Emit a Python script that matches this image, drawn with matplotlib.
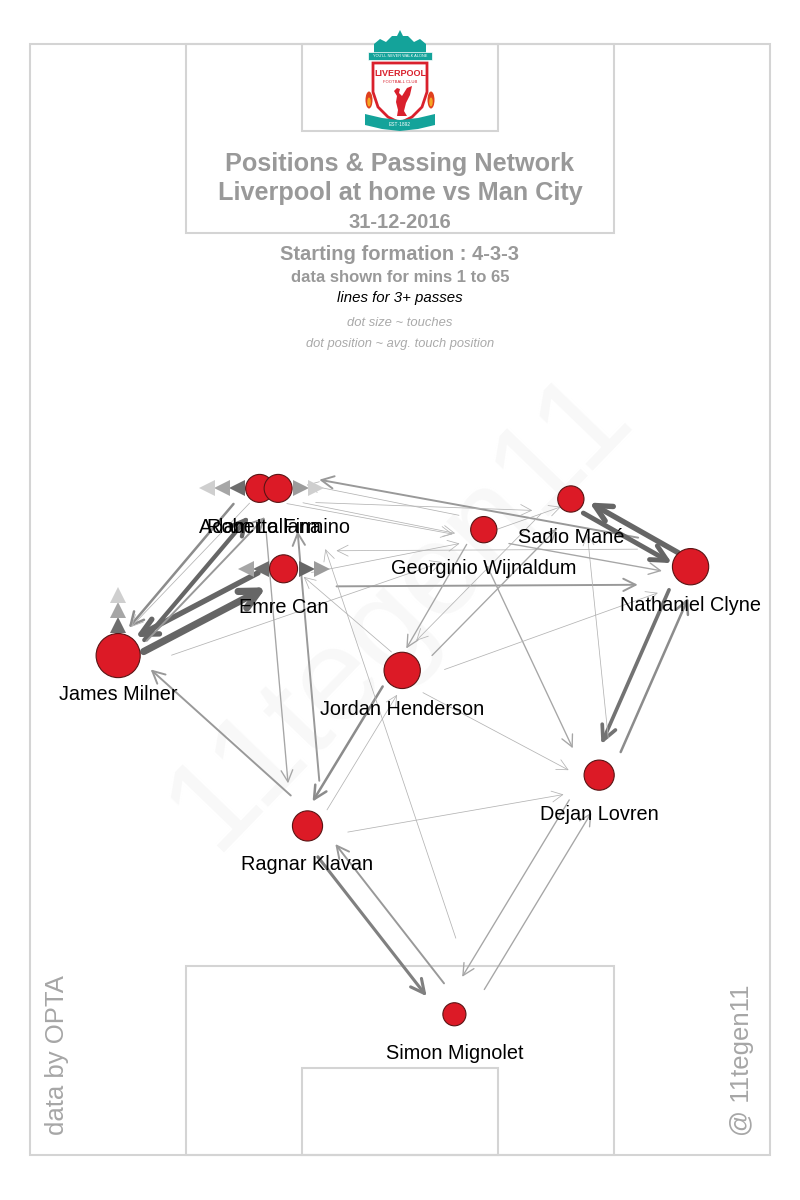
import matplotlib
matplotlib.use("Agg")
import matplotlib.pyplot as plt
from matplotlib.patches import FancyArrowPatch, Rectangle, Polygon, Ellipse
from matplotlib.transforms import offset_copy
import numpy as np

plt.rcParams['font.family'] = ['Liberation Sans', 'DejaVu Sans']

# average touch positions, metres (x across the pitch, y from own goal line)
players = ['Adam Lallana', 'Roberto Firmino', 'Emre Can', 'James Milner',
           'Georginio Wijnaldum', 'Sadio Mané', 'Nathaniel Clyne',
           'Jordan Henderson', 'Ragnar Klavan', 'Dejan Lovren', 'Simon Mignolet']
pos_x = [21.1, 22.8, 23.3, 8.1, 41.7, 49.7, 60.7, 34.2, 25.5, 52.3, 39.0]
pos_y = [63.0, 63.0, 55.4, 47.2, 59.1, 62.0, 55.6, 45.8, 31.1, 35.9, 13.3]
touches = [25, 25, 25, 62, 22, 22, 42, 42, 29, 29, 17]

# passes (3+ only)
pass_from = ['James Milner', 'Emre Can', 'James Milner', 'Adam Lallana',
             'James Milner', 'Roberto Firmino', 'Ragnar Klavan', 'James Milner',
             'Emre Can', 'Nathaniel Clyne', 'Nathaniel Clyne', 'Nathaniel Clyne',
             'Sadio Mané', 'Nathaniel Clyne', 'Dejan Lovren', 'Dejan Lovren',
             'Georginio Wijnaldum', 'Georginio Wijnaldum', 'Jordan Henderson',
             'Sadio Mané', 'Jordan Henderson', 'Ragnar Klavan', 'Roberto Firmino',
             'Ragnar Klavan', 'Ragnar Klavan', 'Simon Mignolet', 'Simon Mignolet',
             'Dejan Lovren', 'Ragnar Klavan', 'Jordan Henderson', 'Jordan Henderson',
             'Adam Lallana', 'Roberto Firmino', 'Roberto Firmino',
             'Georginio Wijnaldum', 'Georginio Wijnaldum', 'Emre Can',
             'Georginio Wijnaldum', 'Simon Mignolet', 'Jordan Henderson']
pass_to = ['Emre Can', 'James Milner', 'Adam Lallana', 'James Milner',
           'Roberto Firmino', 'James Milner', 'James Milner', 'Georginio Wijnaldum',
           'Nathaniel Clyne', 'Emre Can', 'Adam Lallana', 'Sadio Mané',
           'Nathaniel Clyne', 'Dejan Lovren', 'Nathaniel Clyne', 'Sadio Mané',
           'Dejan Lovren', 'Jordan Henderson', 'Sadio Mané',
           'Jordan Henderson', 'Ragnar Klavan', 'Jordan Henderson', 'Ragnar Klavan',
           'Roberto Firmino', 'Simon Mignolet', 'Ragnar Klavan', 'Dejan Lovren',
           'Simon Mignolet', 'Dejan Lovren', 'Dejan Lovren', 'Nathaniel Clyne',
           'Georginio Wijnaldum', 'Georginio Wijnaldum', 'Sadio Mané',
           'Roberto Firmino', 'Sadio Mané', 'Georginio Wijnaldum',
           'Nathaniel Clyne', 'Roberto Firmino', 'Emre Can']
pass_count = [14, 11, 9, 6, 5, 3, 5, 3,
              5, 3, 5, 11,
              10, 8, 6, 3,
              4, 4, 4,
              3, 6, 3, 4,
              5, 7, 5, 4,
              4, 3, 3, 3,
              3, 3, 3,
              3, 3, 3,
              4, 3, 3]

# positional tendency arrows next to some dots
shift_player = ['Adam Lallana', 'Roberto Firmino', 'Emre Can', 'Emre Can', 'James Milner']
shift_dir = ['left', 'right', 'left', 'right', 'up']
shift_shades = [['#6e6e6e', '#a6a6a6', '#cfcfcf'], ['#9c9c9c', '#cfcfcf'],
                ['#6e6e6e', '#a6a6a6'], ['#666666', '#9c9c9c'],
                ['#6e6e6e', '#a6a6a6', '#cfcfcf']]

PITCH_W, PITCH_L = 68, 105
BOX_W, BOX_D = 39.4, 17.9
SIX_W, SIX_D = 18.0, 8.2
LINE = '#d4d4d4'
GREY = '#999999'

fig = plt.figure(figsize=(8, 12), dpi=100)
ax = fig.add_axes([30 / 800, 45 / 1200, 740 / 800, 1111 / 1200])
ax.set_xlim(0, PITCH_W)
ax.set_ylim(0, PITCH_L)
ax.axis('off')

# pitch
pitch_lines = [(0, 0, PITCH_W, PITCH_L),
               ((PITCH_W - BOX_W) / 2, 0, BOX_W, BOX_D),
               ((PITCH_W - SIX_W) / 2, 0, SIX_W, SIX_D),
               ((PITCH_W - BOX_W) / 2, PITCH_L - BOX_D, BOX_W, BOX_D),
               ((PITCH_W - SIX_W) / 2, PITCH_L - SIX_D, SIX_W, SIX_D)]
for x, y, w, h in pitch_lines:
    ax.add_patch(Rectangle((x, y), w, h, fill=False, ec=LINE, lw=1.5,
                           clip_on=False, zorder=1))

# watermark
ax.text(0.5, 0.49, '11tegen11', transform=ax.transAxes, rotation=46,
        fontsize=95, color='#f8f8f8', ha='center', va='center', zorder=0.5)

xy = {p: (x, y) for p, x, y in zip(players, pos_x, pos_y)}


def shade(n):
    t = min((n - 3) / 6, 1)
    g = 0.70 - 0.30 * t
    return (g, g, g)


for a, b, n in zip(pass_from, pass_to, pass_count):
    x0, y0 = xy[a]
    x1, y1 = xy[b]
    dx, dy = x1 - x0, y1 - y0
    ox, oy = 0.045 * dy, -0.045 * dx
    start = (x0 + 0.13 * dx + ox, y0 + 0.13 * dy + oy)
    end = (x1 - 0.13 * dx + ox, y1 - 0.13 * dy + oy)
    lw = 0.55 + 0.42 * (n - 3)
    ax.add_patch(FancyArrowPatch(start, end,
                                 arrowstyle='->,head_length=0.6,head_width=0.3',
                                 mutation_scale=12 + 2 * lw, lw=lw, color=shade(n),
                                 shrinkA=0, shrinkB=0, capstyle='round',
                                 joinstyle='round', zorder=2))

radius = 2.8 * np.sqrt(touches)  # pixels
ax.scatter(pos_x, pos_y, s=(2 * radius * 0.72) ** 2, c='#dc1a26',
           edgecolors='#5a1414', linewidths=0.8, zorder=4)

for p, x, y in zip(players, pos_x, pos_y):
    ax.annotate(p, (x, y), xytext=(0, -28), textcoords='offset points',
                ha='center', va='center', fontsize=14.3, color='black', zorder=5)

marker_of = {'left': '<', 'right': '>', 'up': '^'}
step_of = {'left': (-1, 0), 'right': (1, 0), 'up': (0, 1)}
r_of = dict(zip(players, radius))
for p, d, shades in zip(shift_player, shift_dir, shift_shades):
    x, y = xy[p]
    for i, c in enumerate(shades):
        off = r_of[p] + 9 + 15 * i
        tr = offset_copy(ax.transData, fig=fig, x=step_of[d][0] * off,
                         y=step_of[d][1] * off, units='dots')
        ax.plot([x], [y], marker=marker_of[d], ms=12, color=c, mew=0,
                transform=tr, zorder=3)

# titles
def ftext(y, s, **kw):
    fig.text(0.5, 1 - y / 1200, s, ha='center', va='center', **kw)


ftext(164, 'Positions & Passing Network', fontsize=18.2, fontweight='bold', color=GREY)
ftext(193, 'Liverpool at home vs Man City', fontsize=18.2, fontweight='bold', color=GREY)
ftext(222, '31-12-2016', fontsize=14.5, fontweight='bold', color=GREY)
ftext(254, 'Starting formation : 4-3-3', fontsize=14.5, fontweight='bold', color=GREY)
ftext(278, 'data shown for mins 1 to 65', fontsize=12, fontweight='bold', color=GREY)
ftext(298, 'lines for 3+ passes', fontsize=10.8, style='italic', color='black')
ftext(323, 'dot size ~ touches', fontsize=9.4, style='italic', color='#aaaaaa')
ftext(344, 'dot position ~ avg. touch position', fontsize=9.3, style='italic', color='#aaaaaa')

fig.text(57 / 800, 1 - 1055 / 1200, 'data by OPTA', rotation=90, ha='center',
         va='center', fontsize=18.5, color='#a6a6a6')
fig.text(742 / 800, 1 - 1060 / 1200, '@ 11tegen11', rotation=90, ha='center',
         va='center', fontsize=18.5, color='#a6a6a6')

# club crest
TEAL = '#14a39a'
RED = '#d9202c'
lax = fig.add_axes([362 / 800, 1 - 134 / 1200, 76 / 800, 104 / 1200])
lax.set_xlim(0, 76)
lax.set_ylim(104, 0)
lax.axis('off')
lax.add_patch(Polygon([(12, 23), (12, 14), (18, 9), (24, 12), (30, 6), (35, 6),
                       (38, 0), (41, 6), (46, 6), (52, 12), (58, 9), (64, 14),
                       (64, 23)], fc=TEAL, ec='none'))
lax.add_patch(Rectangle((6, 22), 64, 8, fc=TEAL, ec='white', lw=0.5))
lax.text(38, 26, "YOU'LL NEVER WALK ALONE", fontsize=2.8, color='white',
         ha='center', va='center')
lax.add_patch(Ellipse((7, 70), 7, 17, fc='#e0401e', ec='none'))
lax.add_patch(Ellipse((7, 72), 3.5, 9, fc='#f5a623', ec='none'))
lax.add_patch(Ellipse((69, 70), 7, 17, fc='#e0401e', ec='none'))
lax.add_patch(Ellipse((69, 72), 3.5, 9, fc='#f5a623', ec='none'))
lax.add_patch(Polygon([(11, 33), (65, 33), (65, 62), (60, 77), (50, 87), (38, 93),
                       (26, 87), (16, 77), (11, 62)], fc='white', ec=RED, lw=2))
lax.text(38, 44, 'LIVERPOOL', fontsize=6.5, fontweight='bold', color=RED,
         ha='center', va='center')
lax.text(38, 52, 'FOOTBALL CLUB', fontsize=3, color=RED, ha='center', va='center')
lax.add_patch(Polygon([(32, 61), (35, 58), (38, 59), (37, 63), (40, 66), (45, 58),
                       (50, 56), (48, 65), (44, 73), (42, 81), (45, 86), (35, 86),
                       (36, 80), (34, 72), (35, 66)], fc=RED, ec='none'))
lax.add_patch(Polygon([(3, 84), (20, 88), (38, 90), (56, 88), (73, 84), (73, 95),
                       (56, 99), (38, 101), (20, 99), (3, 95)], fc=TEAL, ec='none'))
lax.text(38, 95, 'EST·1892', fontsize=3.5, color='white', ha='center', va='center')

fig.savefig('out.png', dpi=100, facecolor='white')
